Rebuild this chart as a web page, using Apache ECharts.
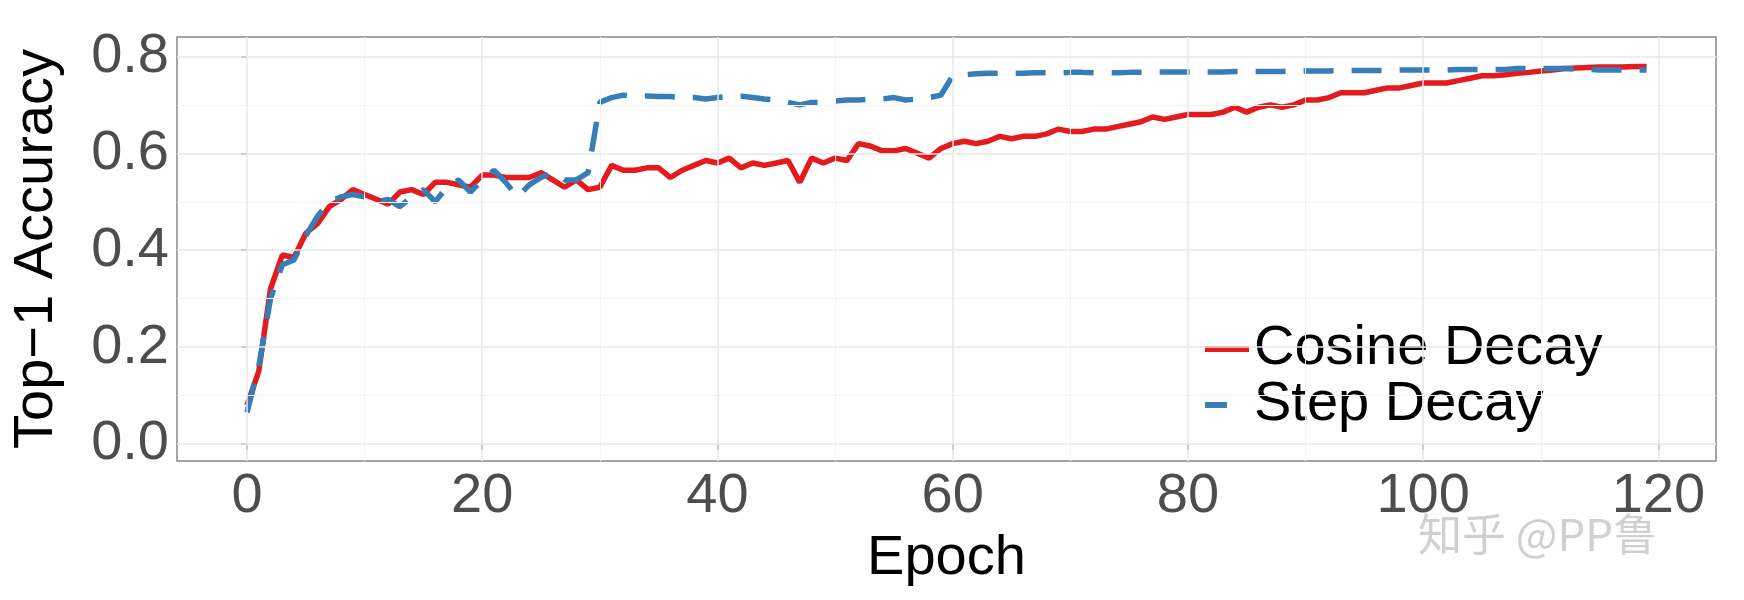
<!DOCTYPE html>
<html><head><meta charset="utf-8">
<script src="https://cdn.jsdelivr.net/npm/echarts@6/dist/echarts.min.js"></script>
<style>html,body{margin:0;padding:0;background:#fff}#c{width:1744px;height:600px}</style>
</head><body><div id="c"></div>
<script>
const epochs = Array.from({length:120},(_, i)=>i);
const cosineDecay = [0.08,0.15,0.32,0.39,0.385,0.435,0.455,0.49,0.505,0.525,0.515,0.505,0.495,0.52,0.525,0.515,0.54,0.54,0.535,0.53,
0.555,0.555,0.55,0.55,0.55,0.56,0.545,0.53,0.545,0.525,0.53,0.575,0.565,0.565,0.57,0.57,0.55,0.565,0.575,0.585,
0.58,0.59,0.57,0.58,0.575,0.58,0.585,0.54,0.59,0.58,0.59,0.585,0.62,0.615,0.605,0.605,0.61,0.60,0.59,0.61,
0.62,0.625,0.62,0.625,0.635,0.63,0.635,0.635,0.64,0.65,0.645,0.645,0.65,0.65,0.655,0.66,0.665,0.675,0.67,0.675,
0.68,0.68,0.68,0.685,0.695,0.685,0.695,0.70,0.695,0.70,0.71,0.71,0.715,0.725,0.725,0.725,0.73,0.735,0.735,0.74,
0.745,0.745,0.745,0.75,0.755,0.76,0.76,0.762,0.765,0.767,0.77,0.772,0.775,0.776,0.777,0.778,0.778,0.778,0.779,0.779];
const stepDecay = [0.065,0.16,0.30,0.37,0.38,0.43,0.47,0.50,0.51,0.515,0.51,0.50,0.505,0.49,0.51,0.525,0.50,0.53,0.545,0.52,
0.545,0.565,0.54,0.51,0.535,0.55,0.56,0.545,0.545,0.56,0.705,0.715,0.72,0.718,0.718,0.717,0.717,0.715,0.715,0.712,
0.715,0.718,0.718,0.715,0.712,0.71,0.705,0.70,0.705,0.705,0.708,0.71,0.71,0.712,0.712,0.715,0.71,0.712,0.715,0.72,
0.76,0.762,0.764,0.765,0.765,0.765,0.765,0.766,0.766,0.766,0.767,0.767,0.766,0.766,0.766,0.767,0.767,0.768,0.768,0.768,
0.768,0.768,0.768,0.768,0.769,0.769,0.769,0.769,0.769,0.77,0.77,0.77,0.77,0.771,0.771,0.771,0.771,0.771,0.772,0.772,
0.772,0.772,0.772,0.773,0.773,0.773,0.773,0.773,0.775,0.775,0.775,0.775,0.775,0.774,0.773,0.772,0.772,0.772,0.772,0.772];
const xTicks = [0,20,40,60,80,100,120];
const xMinor = [10,30,50,70,90,110];
const yTicks = [0,0.2,0.4,0.6,0.8];
const yMinor = [0.1,0.3,0.5,0.7];
const FONT = '"Liberation Sans Narrow","Liberation Sans",sans-serif';
const gridLines = [
  ...xMinor.map(v=>({xAxis:v,lineStyle:{color:'#f2f2f2',width:1,type:'solid'}})),
  ...yMinor.map(v=>({yAxis:v,lineStyle:{color:'#f2f2f2',width:1,type:'solid'}})),
  ...xTicks.map(v=>({xAxis:v,lineStyle:{color:'#e8e8e8',width:1.5,type:'solid'}})),
  ...yTicks.map(v=>({yAxis:v,lineStyle:{color:'#e8e8e8',width:1.5,type:'solid'}}))
];
const chart = echarts.init(document.getElementById('c'));
chart.setOption({
  animation:false,
  grid:{left:177,right:28,top:37,bottom:139,show:true,borderColor:'#888',borderWidth:1.5,backgroundColor:'#fff'},
  xAxis:{type:'value',min:-5.95,max:124.9,name:'Epoch',nameLocation:'middle',nameGap:70,
    nameTextStyle:{fontFamily:FONT,fontSize:56,color:'#000'},
    axisLine:{show:false},splitLine:{show:false},
    axisTick:{show:true,customValues:xTicks,length:6,lineStyle:{color:'#555',width:1.5}},
    axisLabel:{customValues:xTicks,fontFamily:FONT,fontSize:56,color:'#4d4d4d',margin:8}},
  yAxis:{type:'value',min:-0.035,max:0.84,name:'Top\u22121 Accuracy',nameLocation:'middle',nameGap:112,
    nameTextStyle:{fontFamily:FONT,fontSize:56,color:'#000'},
    axisLine:{show:false},splitLine:{show:false},
    axisTick:{show:true,customValues:yTicks,length:6,lineStyle:{color:'#555',width:1.5}},
    axisLabel:{customValues:yTicks,fontFamily:FONT,fontSize:56,color:'#4d4d4d',margin:8,formatter:v=>v.toFixed(1)}},
  legend:{orient:'vertical',left:1200,top:316,itemWidth:44,itemHeight:6,itemGap:0,
    textStyle:{fontFamily:FONT,fontSize:56,color:'#000'},
    data:[{name:'Cosine Decay',icon:'path://M0,0H44V6H0Z',itemStyle:{color:'#e41a1c'}},
          {name:'Step Decay',icon:'path://M0,0H22V6H0Z M44,0H44.01V6H44Z',itemStyle:{color:'#377eb8'}}]},
  series:[
    {name:'Grid',type:'line',data:[],silent:true,markLine:{silent:true,symbol:'none',label:{show:false},data:gridLines}},
    {name:'Cosine Decay',type:'line',symbol:'none',data:epochs.map((e,i)=>[e,cosineDecay[i]]),
      lineStyle:{color:'#e41a1c',width:5.5},itemStyle:{color:'#e41a1c'},z:3},
    {name:'Step Decay',type:'line',symbol:'none',data:epochs.map((e,i)=>[e,stepDecay[i]]),
      lineStyle:{color:'#377eb8',width:5.5,type:[30,18]},itemStyle:{color:'#377eb8'},z:4}
  ],
  graphic:[{type:'text',left:1418,top:512,style:{text:'知乎 @PP鲁',font:'44px "Noto Sans CJK SC"',fill:'#d0d0d0'}}]
});
</script></body></html>
